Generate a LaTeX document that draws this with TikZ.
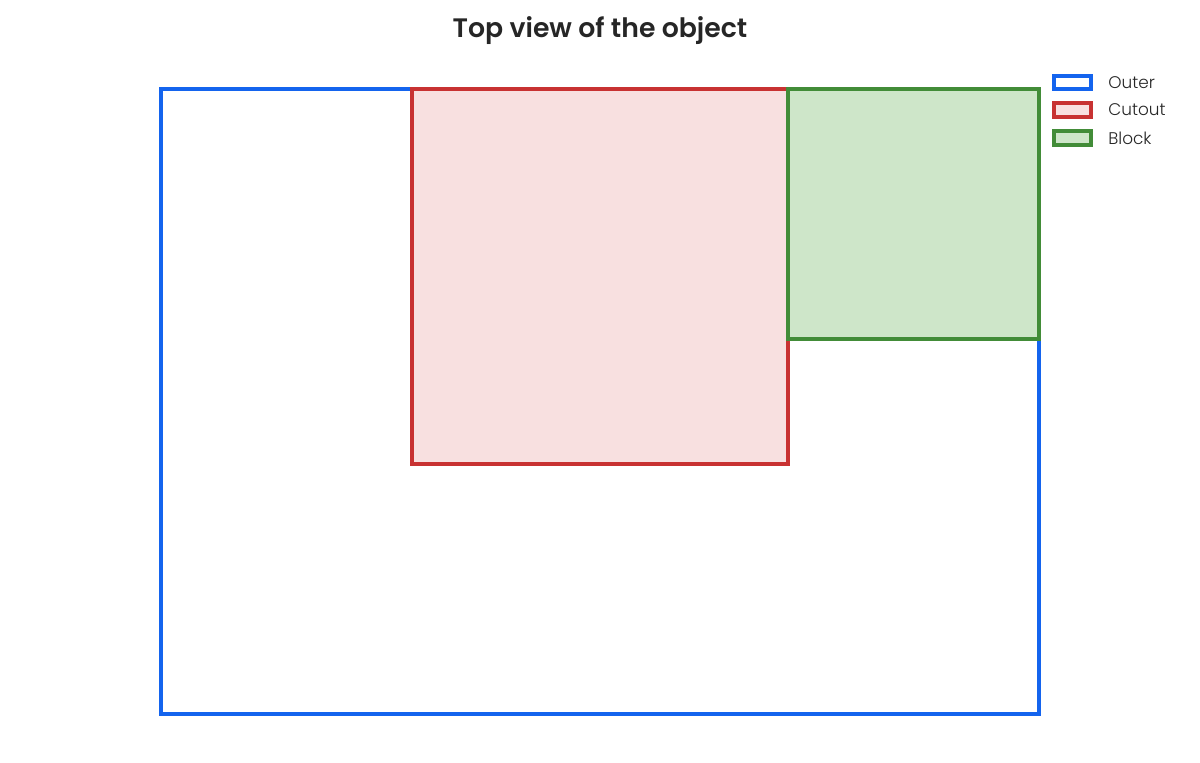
\documentclass[tikz,border=0pt]{standalone}
\usepackage{fontspec}
\setmainfont{Poppins}
\newfontfamily\titlefont{Poppins SemiBold}
\newfontfamily\legendfont{Poppins Light}
\usepackage{tikz}

\definecolor{outerblue}{HTML}{1464EE}
\definecolor{cutred}{HTML}{C83232}
\definecolor{cutfill}{HTML}{F8E0E0}
\definecolor{blockgreen}{HTML}{428C38}
\definecolor{blockfill}{HTML}{CEE6C9}

\begin{document}
\begin{tikzpicture}[x=0.02cm, y=-0.02cm, line join=miter,
        outerbox/.style={draw=outerblue, line width=0.08cm},
        cutoutbox/.style={draw=cutred, fill=cutfill, line width=0.08cm},
        blockbox/.style={draw=blockgreen, fill=blockfill, line width=0.08cm},
        legendtext/.style={anchor=west, inner sep=0pt, font=\legendfont\fontsize{9.6}{12}\selectfont, text=black!85}]
        \useasboundingbox (0, 0) rectangle (1200, 763);
        \node[font=\titlefont\fontsize{15.2}{18}\selectfont, text=black!85] (title) at (600, 31) {Top view of the object};
        % shapes of the top view
        \draw[outerbox] (161, 89) rectangle (1039, 714);
        \draw[cutoutbox] (412, 89) rectangle (788, 464);
        \draw[blockbox] (788, 89) rectangle (1039, 339);
        % legend
        \draw[outerbox] (1054, 76) rectangle (1091, 89);
        \draw[cutoutbox] (1054, 103) rectangle (1091, 117);
        \draw[blockbox] (1054, 131) rectangle (1091, 145);
        \node[legendtext] (lgouter) at (1108, 83) {Outer};
        \node[legendtext] (lgcutout) at (1108, 110) {Cutout};
        \node[legendtext] (lgblock) at (1108, 138) {Block};
\end{tikzpicture}
\end{document}
